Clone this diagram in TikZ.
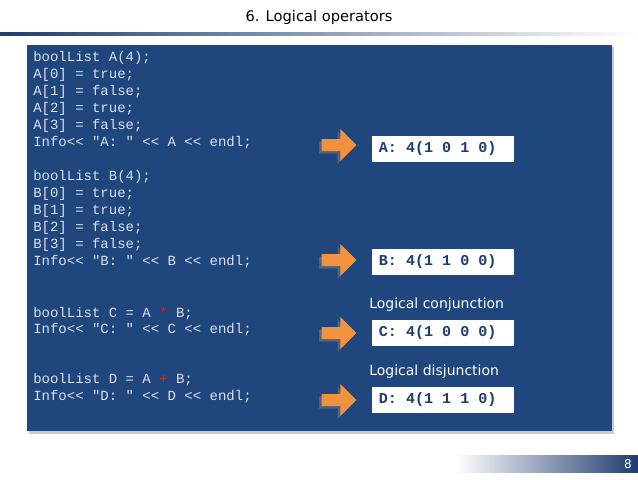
\documentclass[tikz,border=0pt]{standalone}
\usepackage{fontspec}
\setmainfont{DejaVu Sans}
\newfontfamily\resfont{Liberation Mono}[BoldFont={Liberation Mono Bold}]
\usetikzlibrary{shapes.arrows,shadows}
\definecolor{panel}{RGB}{31,71,125}
\definecolor{codefg}{RGB}{220,225,235}
\definecolor{boxfg}{RGB}{31,60,110}
\definecolor{arr}{RGB}{243,146,62}
\newcommand\restxt[1]{\resfont\bfseries\fontsize{11.3}{13}\selectfont\hspace*{3pt}#1\hfill}
\tikzset{
 code/.style={anchor=west,text=codefg,font=\resfont\fontsize{10.5}{12}\selectfont,inner sep=0},
 res/.style={fill=white,minimum height=19pt,text=boxfg,anchor=west,inner xsep=2pt},
 oarrow/.style={single arrow,fill=arr,minimum height=26pt,minimum width=24pt,single arrow head extend=2pt,inner sep=1pt,drop shadow={shadow xshift=-2pt,shadow yshift=-2pt,opacity=0.5}},
 lbl/.style={anchor=west,text=white,font=\fontsize{10.5}{12}\selectfont,inner sep=0}
}
\begin{document}
\begin{tikzpicture}[x=0.75pt,y=-0.75pt]
\useasboundingbox (0,0) rectangle (638,479);
\node[font=\fontsize{11}{13}\selectfont] (title) at (319,17) {6. Logical operators};
\shade[left color=boxfg,right color=white] (0,32) rectangle (638,35);
\fill[gray!40] (29,47) rectangle (614,434);
\fill[panel] (27,45) rectangle (612,431);
\node[code] (l1) at (33,58) {boolList A(4);};
\node[code] (l2) at (33,75) {A[0] = true;};
\node[code] (l3) at (33,92) {A[1] = false;};
\node[code] (l4) at (33,109) {A[2] = true;};
\node[code] (l5) at (33,126) {A[3] = false;};
\node[code] (l6) at (33,143) {Info<< "A: " << A << endl;};
\node[code] (m1) at (33,177) {boolList B(4);};
\node[code] (m2) at (33,194) {B[0] = true;};
\node[code] (m3) at (33,211) {B[1] = true;};
\node[code] (m4) at (33,228) {B[2] = false;};
\node[code] (m5) at (33,245) {B[3] = false;};
\node[code] (m6) at (33,262) {Info<< "B: " << B << endl;};
\node[code] (c1) at (33,314) {boolList C = A \textcolor{red!80!orange}{*} B;};
\node[code] (c2) at (33,330) {Info<< "C: " << C << endl;};
\node[code] (d1) at (33,380) {boolList D = A \textcolor{red!80!orange}{+} B;};
\node[code] (d2) at (33,397) {Info<< "D: " << D << endl;};
\node[oarrow] (aa) at (336,145) {};
\node[oarrow] (ab) at (336,260) {};
\node[oarrow] (ac) at (336,333) {};
\node[oarrow] (ad) at (336,400) {};
\node[res] (ra) at (372,149) {\makebox[102pt][l]{\restxt{A: 4(1 0 1 0)}}};
\node[res] (rb) at (372,262) {\makebox[102pt][l]{\restxt{B: 4(1 1 0 0)}}};
\node[res] (rc) at (372,333) {\makebox[102pt][l]{\restxt{C: 4(1 0 0 0)}}};
\node[res] (rd) at (372,400) {\makebox[102pt][l]{\restxt{D: 4(1 1 1 0)}}};
\node[lbl] (lc) at (369,305) {Logical conjunction};
\node[lbl] (ld) at (369,372) {Logical disjunction};
\shade[left color=white,right color=boxfg] (455,455) rectangle (638,472);
\node[text=white,font=\fontsize{9}{10}\selectfont] (pg) at (628,464) {8};
\end{tikzpicture}
\end{document}
